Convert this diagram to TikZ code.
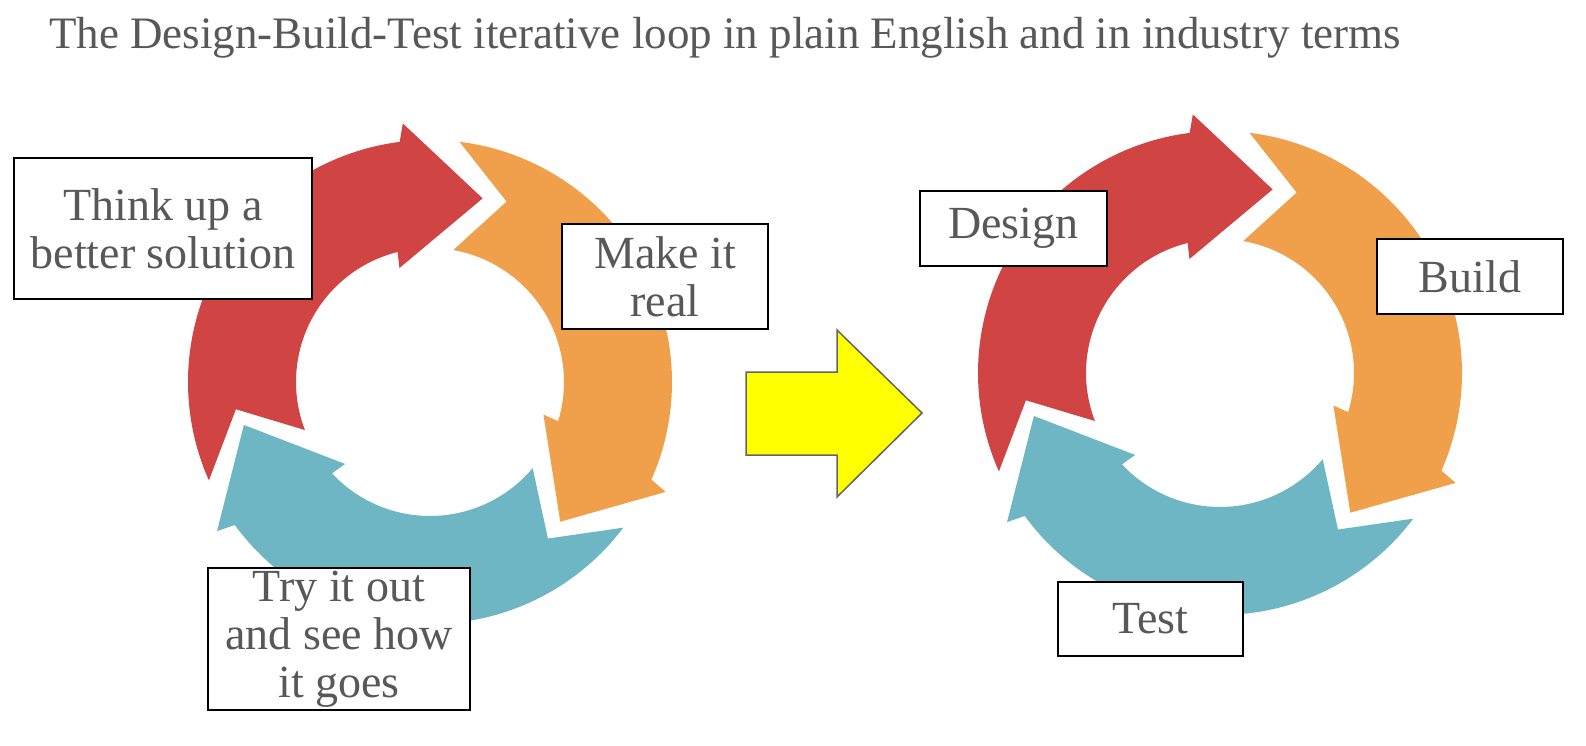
\documentclass[tikz,border=0pt]{standalone}
\usepackage{fontspec}
\setmainfont{Liberation Serif}
\definecolor{loopred}{RGB}{208,68,68}
\definecolor{looporange}{RGB}{240,160,75}
\definecolor{loopteal}{RGB}{110,182,196}
\definecolor{textgray}{RGB}{88,88,88}
\definecolor{edgegray}{RGB}{100,100,100}
\definecolor{arrowyellow}{RGB}{255,255,0}
\tikzset{
  labelbox/.style={draw=black, line width=1.5pt, fill=white, text=textgray,
    align=center, inner sep=0pt, font=\fontsize{46}{48}\selectfont},
}

\begin{document}
\begin{tikzpicture}[x=1pt,y=-1pt]
\useasboundingbox (0,0) rectangle (1586,746);
\fill[white] (0,0) rectangle (1586,746);

\node[anchor=base west, text=textgray, inner sep=0pt,
  font=\fontsize{45}{48}\selectfont] (title) at (49,49)
  {The Design-Build-Test iterative loop in plain English and in industry terms};

% the two loops
\foreach \cx/\cy in {430/382,1220/373}
\foreach \t/\c in {74/loopred,-47/looporange,193/loopteal}
\fill[\c,shift={(\cx,\cy)},yscale=-1] (\t:191) -- (\t+22:260) -- (\t+23.2:242)
  arc[start angle=\t+23.2,end angle=\t+130,radius=242] -- (\t+114:196) -- (\t+127:134)
  arc[start angle=\t+127,end angle=\t+30,radius=134] -- (\t+31:118) -- cycle;

% yellow arrow
\draw[fill=arrowyellow, draw=edgegray, line width=1.5pt] (746,372) -- (837,372) -- (837,330)
  -- (922,413) -- (837,497) -- (837,455) -- (746,455) -- cycle;

\node[labelbox, minimum width=298pt, minimum height=141pt] (think) at (163,228.5) {Think up a\\better solution};
\node[labelbox, minimum width=206pt, minimum height=105pt] (make) at (665,276.5) {Make it\\real};
\node[labelbox, minimum width=262pt, minimum height=142pt] (try) at (339,639) {Try it out\\and see how\\it goes};

\node[labelbox, minimum width=187pt, minimum height=75pt] (design) at (1013.5,228.5) {Design};
\node[labelbox, minimum width=186pt, minimum height=75pt] (build) at (1470,276.5) {Build};
\node[labelbox, minimum width=185pt, minimum height=74pt] (test) at (1150.5,619) {Test};

\end{tikzpicture}
\end{document}
